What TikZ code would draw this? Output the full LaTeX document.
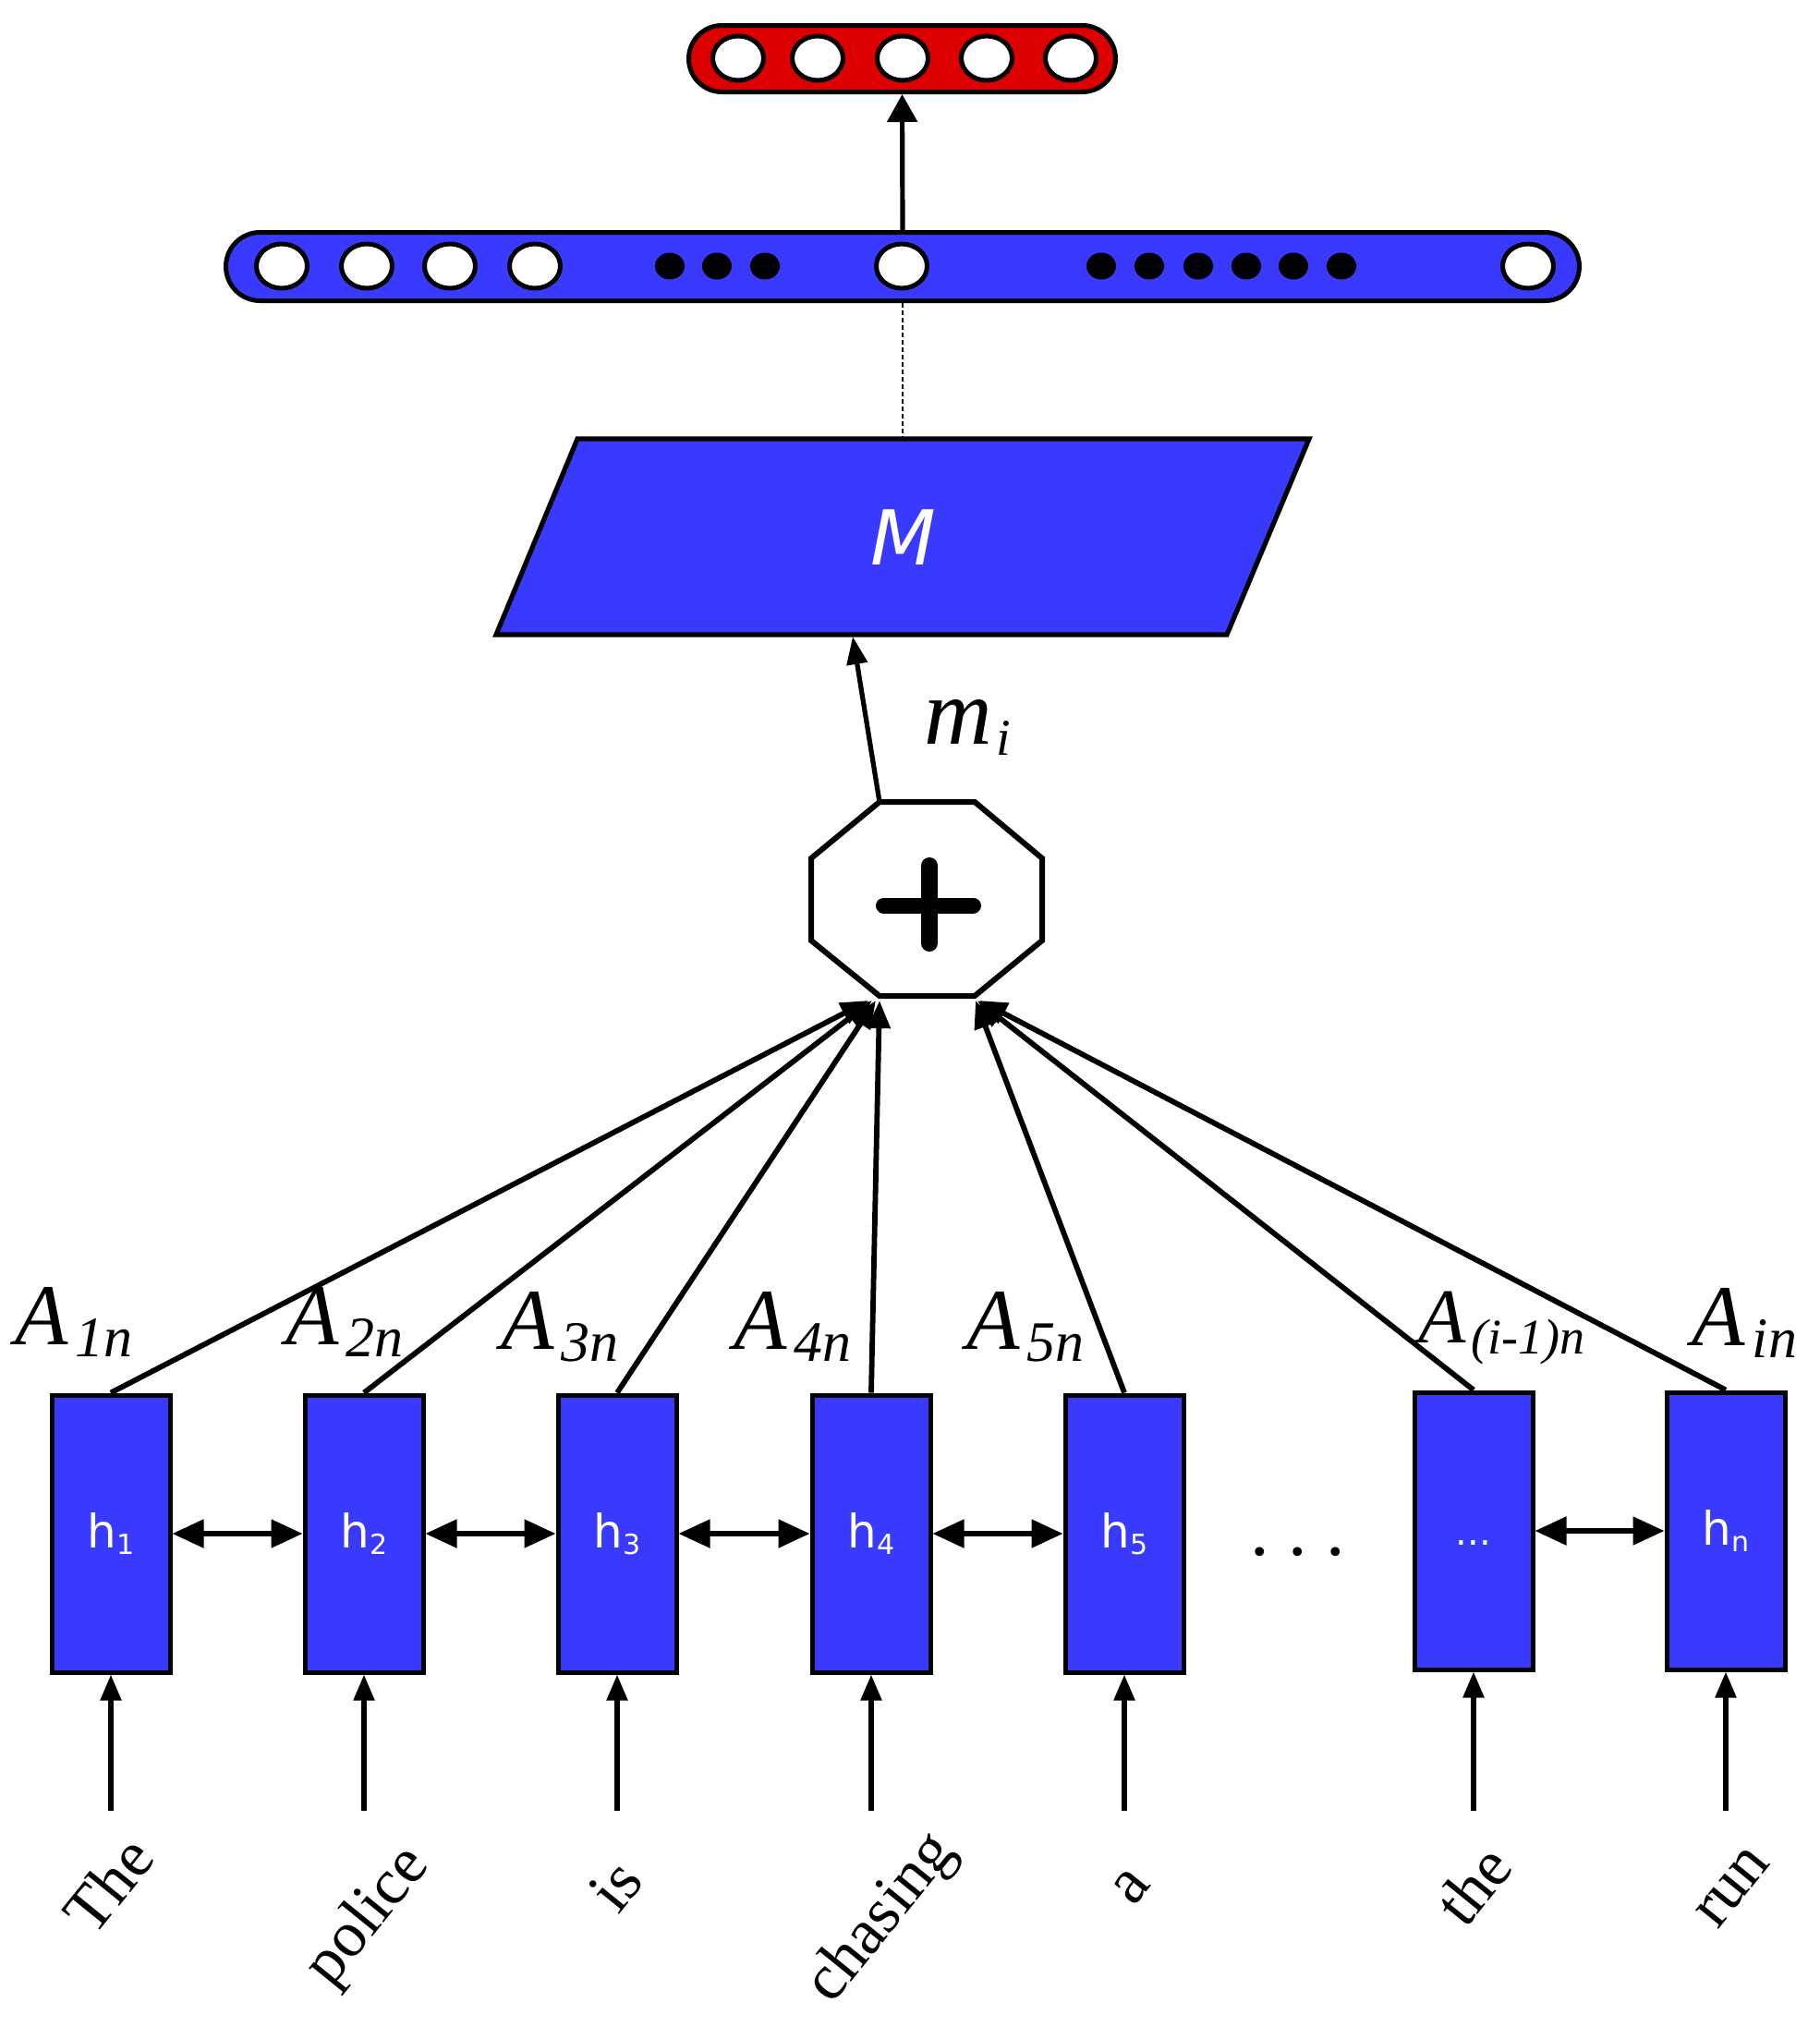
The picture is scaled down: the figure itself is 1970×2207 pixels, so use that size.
\documentclass[tikz,border=0pt]{standalone}
\usepackage{fontspec}
\setmainfont{Liberation Serif}
\newfontfamily\hfont{DejaVu Sans}
\usetikzlibrary{arrows.meta,shapes.misc,shapes.geometric}
\definecolor{myblue}{RGB}{58,58,255}
\definecolor{myred}{RGB}{221,0,0}
\newcommand{\hsub}[2]{#1\raisebox{-3.5pt}{\fontsize{15}{15}\selectfont #2}}
\newcommand{\asub}[1]{A\hspace{4pt}\raisebox{-6.5pt}{\fontsize{31}{31}\selectfont #1}}
\begin{document}
\begin{tikzpicture}[x=0.5pt,y=-0.5pt,
  hbox/.style={draw=black,line width=2.5pt,fill=myblue,minimum width=64pt,minimum height=150pt,inner sep=0pt,text=white,font=\hfont\fontsize{25}{25}\selectfont},
  bar/.style={draw=black,line width=2.5pt,rounded rectangle,inner sep=0pt},
  unit/.style={draw=black,line width=2.5pt,fill=white,ellipse,minimum width=27.5pt,minimum height=24pt,inner sep=0pt},
  blob/.style={fill=black,ellipse,minimum width=16pt,minimum height=14.5pt,inner sep=0pt},
  alab/.style={anchor=base west,font=\fontsize{47}{47}\selectfont\itshape,inner sep=0pt},
  word/.style={rotate=51,font=\fontsize{35}{35}\selectfont,inner sep=0pt},
  conn/.style={line width=2.9pt,-{Triangle[length=15pt,width=12pt]}},
  bidir/.style={line width=2.6pt,{Triangle[length=17pt,width=15pt]}-{Triangle[length=17pt,width=15pt]}},
  inarrow/.style={line width=2.6pt,-{Triangle[length=14pt,width=11pt]}}
]
\useasboundingbox (0,0) rectangle (1970,2207);

% output layer (red)
\node[bar,fill=myred,minimum width=231pt,minimum height=36pt] (red) at (976.5,63.5) {};
\foreach \x [count=\i] in {799,885,977,1068,1159}
  \node[unit] (r\i) at (\x,63) {};

% hidden layer (blue bar)
\node[bar,fill=myblue,minimum width=732.5pt,minimum height=37pt] (bar) at (977,288.5) {};
\foreach \x [count=\i] in {305,397,487,579,976,1654}
  \node[unit] (b\i) at (\x,288) {};
\foreach \x [count=\i] in {725,776,828,1192,1244,1297,1349,1400,1452}
  \node[blob] (d\i) at (\x,288) {};

\draw[line width=2.6pt,-{Triangle[length=15pt,width=16pt]}] (bar.north) -- (red.south);

% M parallelogram
\coordinate (Mtl) at (625,475);
\coordinate (Mtr) at (1417,475);
\coordinate (Mbr) at (1328,687);
\coordinate (Mbl) at (537,687);
\draw[fill=myblue,line width=2.6pt] (Mtl) -- (Mtr) -- (Mbr) -- (Mbl) -- cycle;
\node[text=white,font=\hfont\itshape\fontsize{41}{41}\selectfont] (M) at (978,582) {M};
\coordinate (Mtop) at (977,475);
\coordinate (Mbot) at (923,689);
\draw[line width=1pt,dash pattern=on 2.5pt off 1.5pt] (bar.south) -- (Mtop);

% sum octagon
\coordinate (o1) at (952,868);
\coordinate (o2) at (1055,868);
\coordinate (o3) at (1128,929);
\coordinate (o4) at (1128,1018);
\coordinate (o5) at (1055,1078);
\coordinate (o6) at (952,1078);
\coordinate (o7) at (878,1018);
\coordinate (o8) at (878,929);
\draw[line width=3pt,fill=white] (o1) -- (o2) -- (o3) -- (o4) -- (o5) -- (o6) -- (o7) -- (o8) -- cycle;
\node[minimum width=125pt,minimum height=105pt,inner sep=0pt] (sum) at (1003,973) {};
\draw[line width=8.5pt,line cap=round] (956.5,980) -- (1053.5,980);
\draw[line width=9pt,line cap=round] (1006,937) -- (1006,1021);

\draw[line width=2.6pt,-{Triangle[length=15pt,width=11pt]}] (o1) -- (Mbot);
\node[anchor=base west,inner sep=0pt,font=\fontsize{51}{51}\selectfont\itshape] (mi) at (1000,805) {m\hspace{2pt}\raisebox{-6pt}{\fontsize{28}{28}\selectfont i}};

% hidden state boxes
\node[hbox] (h1) at (120,1660) {\hsub{h}{1}};
\node[hbox] (h2) at (394,1660) {\hsub{h}{2}};
\node[hbox] (h3) at (668,1660) {\hsub{h}{3}};
\node[hbox] (h4) at (943,1660) {\hsub{h}{4}};
\node[hbox] (h5) at (1217,1660) {\hsub{h}{5}};
\node[hbox,font=\hfont\fontsize{20}{20}\selectfont] (h6) at (1595,1657) {\vphantom{h}...};
\node[hbox] (h7) at (1868,1657) {\hsub{h}{n}};

\node[anchor=base,inner sep=0pt,font=\fontsize{41}{41}\selectfont] (gap) at (1405,1683) {.\ .\ .};

\draw[bidir] (h1.east) -- (h2.west);
\draw[bidir] (h2.east) -- (h3.west);
\draw[bidir] (h3.east) -- (h4.west);
\draw[bidir] (h4.east) -- (h5.west);
\draw[bidir] (h6.east) -- (h7.west);

% attention connectors
\coordinate (t1) at (940,1083);
\coordinate (t2) at (944,1083);
\coordinate (t3) at (948,1083);
\coordinate (t4) at (952,1083);
\coordinate (t5) at (1056,1083);
\coordinate (t6) at (1058,1083);
\coordinate (t7) at (1060,1083);
\foreach \i in {1,...,7}
  \draw[conn] (h\i.north) -- (t\i);

% attention labels
\node[alab] (a1) at (16,1455) {\asub{1n}};
\node[alab] (a2) at (309,1455) {\asub{2n}};
\node[alab] (a3) at (542,1460) {\asub{3n}};
\node[alab] (a4) at (794,1460) {\asub{4n}};
\node[alab] (a5) at (1046,1460) {\asub{5n}};
\node[alab,font=\fontsize{42}{42}\selectfont\itshape] (a6) at (1535,1453) {A\hspace{3pt}\raisebox{-6pt}{\fontsize{27}{27}\selectfont (i-1)n}};
\node[alab] (a7) at (1831,1456) {\asub{in}};

% inputs
\foreach \x [count=\i] in {120,394,668,943,1217,1595,1868}
  \coordinate (in\i) at (\x,1960);
\foreach \i in {1,...,7}
  \draw[inarrow] (in\i) -- (h\i.south);

\node[word] (w1) at (117,2040) {The};
\node[word] (w2) at (399,2075) {police};
\node[word] (w3) at (666,2041) {is};
\node[word] (w4) at (955,2077) {chasing};
\node[word] (w5) at (1225,2042) {a};
\node[word] (w6) at (1595,2040) {the};
\node[word] (w7) at (1876,2043) {run};
\end{tikzpicture}
\end{document}
